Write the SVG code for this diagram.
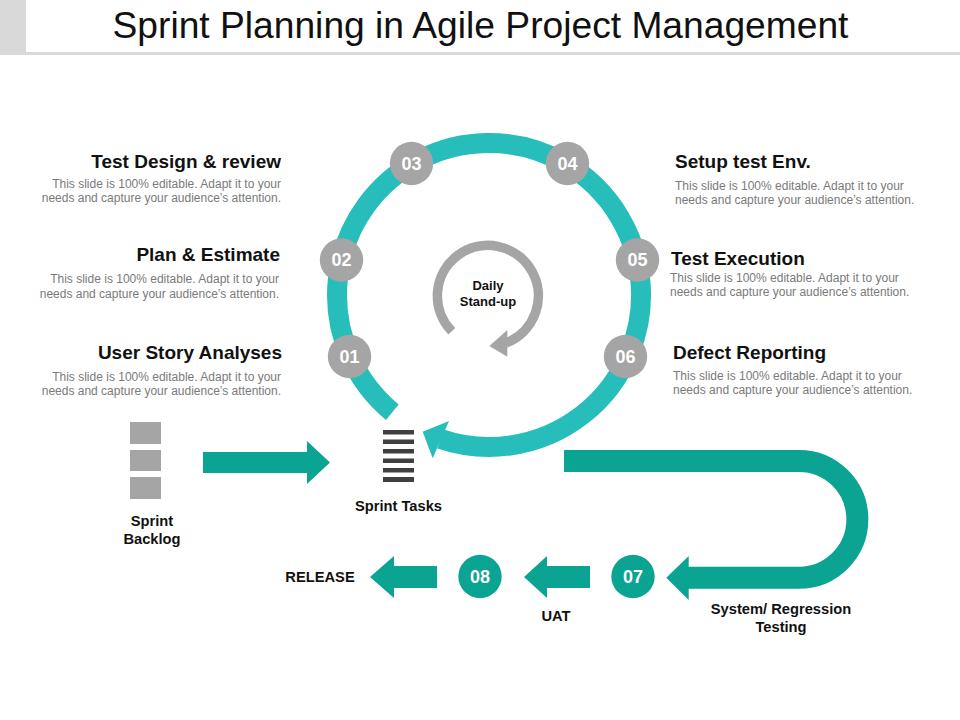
<svg xmlns="http://www.w3.org/2000/svg" width="960" height="720" viewBox="0 0 960 720">
<style>
text{font-family:"Liberation Sans",Arial,sans-serif}
.h{font-size:19px;font-weight:bold;fill:#111}
.d{font-size:12px;fill:#7a7a7a}
.l{font-size:14.700px;font-weight:bold;fill:#111;text-anchor:middle}
.s{font-size:13px;font-weight:bold;fill:#111;text-anchor:middle}
.n{font-size:18px;font-weight:bold;fill:#fff;text-anchor:middle}
.g{fill:#a5a5a5}
.t{fill:#0ba392}
.e{text-anchor:end}
</style>
<rect width="960" height="720" fill="#fff"/>
<g id="header">
<rect x="0" y="0" width="26" height="52" fill="#d9d9d9"/>
<rect x="0" y="52" width="960" height="3" fill="#d9d9d9"/>
<text x="480.500" y="38" font-size="37.200" text-anchor="middle" fill="#111">Sprint Planning in Agile Project Management</text>
</g>
<g id="connectors" fill="none">
<path id="ring" d="M392.300 412.200A152 152 0 1 1 440.500 439" stroke="#27bdbb" stroke-width="20"/>
<polygon points="422.700,431.700 449,421 432.700,458.300" fill="#27bdbb"/>
<path id="standup" d="M451.800 331.200A50.500 50.500 0 1 1 506 343" stroke="#a5a5a5" stroke-width="9.500"/>
<polygon points="489.300,346 507.300,330 507.300,356.700" fill="#a5a5a5"/>
<polygon class="t" points="203,452 307,452 307,441 330,462.500 307,484 307,473 203,473"/>
<path d="M564 461H799A58.350 58.350 0 0 1 799 577.700H687" stroke="#0ba392" stroke-width="22"/>
<polygon class="t" points="666.300,577.700 688.700,556 688.700,600"/>
<polygon class="t" points="437,566 394,566 394,556 370,577 394,598 394,588 437,588"/>
<polygon class="t" points="590,566 547,566 547,556 524,577 547,598 547,588 590,588"/>
</g>
<g id="n01"><circle class="g" cx="349.500" cy="356.500" r="21.700"/><text class="n" x="349.500" y="363">01</text></g>
<g id="n02"><circle class="g" cx="341.500" cy="260" r="21.700"/><text class="n" x="341.500" y="266">02</text></g>
<g id="n03"><circle class="g" cx="411.500" cy="163.500" r="21.700"/><text class="n" x="411.500" y="170">03</text></g>
<g id="n04"><circle class="g" cx="567.500" cy="163.500" r="21.700"/><text class="n" x="567.500" y="170">04</text></g>
<g id="n05"><circle class="g" cx="637.500" cy="260" r="21.700"/><text class="n" x="637.500" y="266">05</text></g>
<g id="n06"><circle class="g" cx="625.500" cy="356.500" r="21.700"/><text class="n" x="625.500" y="363">06</text></g>
<g id="n07"><circle class="t" cx="633" cy="576.500" r="21.700"/><text class="n" x="633" y="583">07</text></g>
<g id="n08"><circle class="t" cx="480" cy="576.500" r="21.700"/><text class="n" x="480" y="583">08</text></g>
<g id="standup-label"><text class="s" x="488" y="290">Daily</text><text class="s" x="488" y="306">Stand-up</text></g>
<g id="test-design"><text class="h e" x="281" y="168">Test Design &amp; review</text><text class="d e" x="281" y="188">This slide is 100% editable. Adapt it to your</text><text class="d e" x="281" y="202">needs and capture your audience’s attention.</text></g>
<g id="plan"><text class="h e" x="280" y="261">Plan &amp; Estimate</text><text class="d e" x="279" y="283">This slide is 100% editable. Adapt it to your</text><text class="d e" x="279" y="298">needs and capture your audience’s attention.</text></g>
<g id="user-story"><text class="h e" x="282" y="359">User Story Analyses</text><text class="d e" x="281" y="381">This slide is 100% editable. Adapt it to your</text><text class="d e" x="281" y="395">needs and capture your audience’s attention.</text></g>
<g id="setup"><text class="h" x="675" y="168">Setup test Env.</text><text class="d" x="675" y="190">This slide is 100% editable. Adapt it to your</text><text class="d" x="675" y="204">needs and capture your audience’s attention.</text></g>
<g id="execution"><text class="h" x="671" y="265">Test Execution</text><text class="d" x="670" y="282">This slide is 100% editable. Adapt it to your</text><text class="d" x="670" y="296">needs and capture your audience’s attention.</text></g>
<g id="defect"><text class="h" x="673" y="359">Defect Reporting</text><text class="d" x="673" y="380">This slide is 100% editable. Adapt it to your</text><text class="d" x="673" y="394">needs and capture your audience’s attention.</text></g>
<g id="backlog">
<rect class="g" x="130" y="422" width="31" height="22"/><rect class="g" x="130" y="450" width="31" height="21"/><rect class="g" x="130" y="477" width="31" height="22"/>
<text class="l" x="152" y="526">Sprint</text><text class="l" x="152" y="544">Backlog</text>
</g>
<g id="tasks" fill="#404040">
<rect x="383" y="430" width="31" height="4.500"/><rect x="383" y="439.500" width="31" height="4.500"/><rect x="383" y="449" width="31" height="4.500"/><rect x="383" y="458.500" width="31" height="4.500"/><rect x="383" y="468" width="31" height="4.500"/><rect x="383" y="477" width="31" height="5"/>
<text class="l" x="398.500" y="511">Sprint Tasks</text>
</g>
<g id="release"><text class="l" x="320" y="582">RELEASE</text></g>
<g id="uat"><text class="l" x="556" y="621">UAT</text></g>
<g id="regression"><text class="l" x="781" y="614">System/ Regression</text><text class="l" x="781" y="632">Testing</text></g>
</svg>
